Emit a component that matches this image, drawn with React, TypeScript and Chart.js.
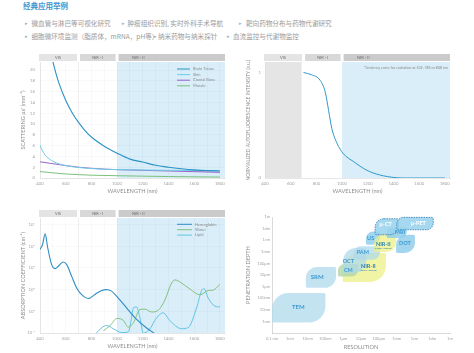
import React, { useEffect, useRef } from 'react';
import { Chart, registerables } from 'chart.js';

Chart.register(...registerables);

const FAMILY = 'Lato, "Open Sans", "DejaVu Sans", sans-serif';
const CJK = '"Noto Sans CJK SC", "Noto Sans", sans-serif';

// ---------- header text ----------
const headingText = '经典应用举例';
const bulletRow1 = ['微血管与淋巴等可视化研究', '肿瘤组织识别, 实时外科手术导航', '靶向药物分布与药物代谢研究'];
const bulletRow2 = ['细胞微环境监测（脂质体，mRNA，pH等）', '纳米药物与纳米探针', '血流监控与代谢物监控'];

// ---------- spectral bands ----------
const bandNames = ['VIS', 'NIR - I', 'NIR - II'];
const bandStart = [400, 700, 1000];
const bandEnd = [700, 1000, 1840];
const wavelengthTicks = [400, 500, 600, 700, 800, 900, 1000, 1100, 1200, 1300, 1400, 1500, 1600, 1700, 1800];
const wavelengthLabels = [400, 600, 800, 1000, 1200, 1400, 1600, 1800];

// ---------- scattering (mm^-1) ----------
const scatterTicks = [0, 1, 2, 3, 4, 5, 6, 7, 8, 9, 10, 11, 12, 13, 14, 15, 16, 17, 18, 19, 20, 21];
const scatterLabels = [0, 2, 4, 6, 8, 10, 12, 14, 16, 18, 20];
const brainWl = [500, 525, 550, 600, 650, 700, 750, 800, 900, 1000, 1100, 1200, 1300, 1400, 1500, 1600, 1700, 1800];
const brainMus = [21.6, 19.3, 17.4, 14.4, 12.1, 10.3, 8.8, 7.6, 5.9, 4.6, 3.5, 2.95, 2.35, 2.0, 1.72, 1.5, 1.36, 1.3];
const skinWl = [400, 420, 450, 500, 550, 600, 700, 800, 900, 1000, 1200, 1400, 1600, 1800];
const skinMus = [6.1, 5.0, 4.0, 3.1, 2.6, 2.3, 1.95, 1.75, 1.62, 1.55, 1.48, 1.43, 1.4, 1.37];
const boneWl = [400, 500, 600, 700, 800, 900, 1000, 1200, 1400, 1600, 1800];
const boneMus = [3.0, 2.65, 2.3, 2.0, 1.8, 1.65, 1.55, 1.42, 1.3, 1.18, 1.05];
const muscleWl = [400, 500, 600, 700, 800, 1000, 1200, 1400, 1600, 1800];
const muscleMus = [1.2, 0.95, 0.75, 0.62, 0.52, 0.42, 0.34, 0.27, 0.22, 0.17];

// ---------- autofluorescence ----------
const afWl = [700, 760, 830, 870, 895, 920, 960, 1010, 1090, 1190, 1290, 1420, 1500, 1600, 1700, 1800];
const afVal = [1.0, 0.98, 0.925, 0.81, 0.64, 0.47, 0.33, 0.23, 0.155, 0.075, 0.03, 0.003, 0, 0, 0, 0];
const afTicks = [0, 1];

// ---------- absorption (cm^-1) ----------
const absTicks = [0.1, 1, 10, 100, 1000, 10000];
const absLabels = ['10⁻¹', '10⁰', '10¹', '10²', '10³', '10⁴'];
const hbWl = [400, 420, 440, 460, 490, 517, 543, 580, 607, 646, 685, 737, 776, 828, 880, 918, 957, 996, 1074, 1152, 1230, 1300];
const hbAbs = [708, 1200, 3700, 850, 145, 93, 120, 186, 145, 42, 12, 5.0, 3.9, 6.0, 9.1, 10, 8.5, 5.0, 1.45, 0.42, 0.17, 0.089];
const waterWl = [893, 944, 1000, 1049, 1087, 1127, 1178, 1217, 1269, 1320, 1372, 1424, 1450, 1502, 1567, 1645, 1710, 1748, 1800];
const waterAbs = [0.126, 0.214, 0.47, 0.38, 0.186, 0.295, 1.2, 1.26, 0.93, 1.12, 3.3, 20, 28, 20, 10.7, 5.75, 9.1, 9.5, 17.4];
const lipidWl = [838, 880, 918, 970, 1036, 1087, 1110, 1127, 1152, 1178, 1204, 1250, 1307, 1359, 1411, 1502, 1554, 1619, 1658, 1676, 1710, 1761, 1800];
const lipidAbs = [0.1, 0.174, 0.224, 0.158, 0.105, 0.112, 0.4, 1.45, 1.58, 0.49, 0.1, 0.141, 0.5, 0.85, 0.37, 0.158, 0.178, 1.45, 9.1, 11.2, 4.0, 1.74, 1.58];

// ---------- imaging modalities (log10 metres) ----------
const decadeTicks = [1e-10, 1e-9, 1e-8, 1e-7, 1e-6, 1e-5, 1e-4, 1e-3, 1e-2, 1e-1, 1];
const resolutionLabels = ['0.1 nm', '1nm', '10nm', '100nm', '1μm', '10μm', '100μm', '1mm', '1cm', '1dm', '1m'];
const depthLabels = ['', '1nm', '10nm', '100nm', '1μm', '10μm', '100μm', '1mm', '1cm', '1dm', '1m'];
const modNames = ['TEM', 'SRM', 'NIR-II', 'CM', 'OCT', 'PAM', 'US', 'NIR-II', 'DOT', 'MRI', 'μ-CT', 'μ-PET'];
const modSub = ['', '', '(Small Animals)', '', '', '', '', '(Large Animals)', '', '', '', ''];
const modResMin = [-10, -8.1, -6.03, -6.3, -6.0, -5.43, -4.72, -4.27, -3.03, -3.56, -4.21, -2.99];
const modResMax = [-7.0, -6.4, -3.6, -5.15, -4.7, -3.93, -3.93, -3.03, -1.97, -2.43, -2.9, -0.94];
const modDepMin = [-9.1, -6.1, -5.6, -5.12, -4.83, -3.68, -2.39, -3.02, -3.1, -1.81, -1.53, -1.1];
const modDepMax = [-6.55, -4.3, -3.1, -4.05, -2.67, -2.53, -1.24, -1.47, -1.53, -0.9, -0.15, -0.03];
const modLabelRes = [-8.52, -7.46, -4.59, -5.71, -5.71, -4.9, -4.46, -3.75, -2.53, -2.81, -3.61, -1.78];
const modLabelDep = [-7.79, -5.21, -4.26, -4.63, -3.83, -3.05, -1.81, -2.33, -2.3, -1.33, -0.58, -0.52];
const modKind = ['pale', 'pale', 'yellow', 'green', 'pale', 'pale', 'blue', 'yellow', 'blue', 'blue', 'dash', 'dash'];

const NIR2_FILL = '#d9eef8';
const TICK_COLOR = '#a3a3a3';
const TITLE_COLOR = '#8e8e8e';

const pts = (xs: number[], ys: number[]) => xs.map((x, i) => ({ x, y: ys[i] }));

const bandPlugin = {
  id: 'bands',
  beforeDraw(chart: any, _a: any, opts: any) {
    if (!opts || !opts.show) return;
    const { ctx, chartArea: a } = chart;
    const x = chart.scales.x;
    ctx.save();
    const s2 = x.getPixelForValue(bandStart[2]);
    ctx.fillStyle = NIR2_FILL;
    ctx.fillRect(s2, a.top, a.right - s2, a.bottom - a.top);
    if (opts.visHatch) {
      const e0 = x.getPixelForValue(bandEnd[0]) - 2;
      ctx.fillStyle = '#e3e3e3';
      ctx.fillRect(a.left, a.top, e0 - a.left, a.bottom - a.top);
      ctx.strokeStyle = 'rgba(255,255,255,0.35)';
      ctx.lineWidth = 0.5;
      for (let yy = a.top + 1; yy < a.bottom; yy += 2) {
        ctx.beginPath();
        ctx.moveTo(a.left, yy);
        ctx.lineTo(e0, yy);
        ctx.stroke();
      }
    }
    const fills = ['#e4e4e4', '#d8d8d8', '#cbcbcb'];
    for (let i = 0; i < 3; i++) {
      const x0 = x.getPixelForValue(bandStart[i]) + (i > 0 ? 1.5 : -1);
      const x1 = x.getPixelForValue(bandEnd[i]) - (i < 2 ? 1.5 : 0);
      ctx.fillStyle = fills[i];
      ctx.fillRect(x0, a.top - 8, x1 - x0, 7);
      ctx.fillStyle = '#6f6f6f';
      ctx.font = `4px ${FAMILY}`;
      ctx.textAlign = 'center';
      ctx.textBaseline = 'middle';
      const cx = i === 2 ? x.getPixelForValue(1165) : (x0 + x1) / 2;
      ctx.fillText(bandNames[i], cx, a.top - 4.5);
    }
    ctx.restore();
  },
};

const legendPlugin = {
  id: 'miniLegend',
  afterDatasetsDraw(chart: any, _a: any, opts: any) {
    if (!opts || !opts.show) return;
    const { ctx, chartArea: a } = chart;
    ctx.save();
    ctx.font = `4px ${FAMILY}`;
    ctx.textBaseline = 'middle';
    ctx.textAlign = 'left';
    chart.data.datasets.forEach((ds: any, i: number) => {
      const y = a.top + opts.top + i * opts.step;
      const x0 = a.right - opts.right;
      ctx.strokeStyle = ds.borderColor;
      ctx.lineWidth = 1;
      ctx.beginPath();
      ctx.moveTo(x0, y);
      ctx.lineTo(x0 + opts.len, y);
      ctx.stroke();
      ctx.fillStyle = '#8a8a8a';
      ctx.fillText(ds.label, x0 + opts.len + 3, y);
    });
    ctx.restore();
  },
};

const notePlugin = {
  id: 'note',
  afterDraw(chart: any, _a: any, opts: any) {
    if (!opts || !opts.text) return;
    const { ctx, chartArea: a } = chart;
    ctx.save();
    ctx.font = `3.6px ${FAMILY}`;
    ctx.fillStyle = '#8a8a8a';
    ctx.textAlign = 'right';
    ctx.textBaseline = 'middle';
    ctx.fillText(opts.text, a.right - 2, a.top + 6);
    ctx.restore();
  },
};

function leaf(ctx: CanvasRenderingContext2D, x1: number, y1: number, x2: number, y2: number) {
  const w = x2 - x1;
  const h = y2 - y1;
  const r = Math.min(w, h) * 0.55;
  const s = Math.min(1.5, w / 4, h / 4);
  ctx.beginPath();
  ctx.moveTo(x1 + r, y1);
  ctx.lineTo(x2 - s, y1);
  ctx.arcTo(x2, y1, x2, y1 + s, s);
  ctx.lineTo(x2, y2 - r);
  ctx.arcTo(x2, y2, x2 - r, y2, r);
  ctx.lineTo(x1 + s, y2);
  ctx.arcTo(x1, y2, x1, y2 - s, s);
  ctx.lineTo(x1, y1 + r);
  ctx.arcTo(x1, y1, x1 + r, y1, r);
  ctx.closePath();
}

const modalityPlugin = {
  id: 'modalities',
  beforeDatasetsDraw(chart: any) {
    const { ctx } = chart;
    const xs = chart.scales.x;
    const ys = chart.scales.y;
    const P = (e: number) => Math.pow(10, e);
    const fills: Record<string, string> = {
      pale: 'rgba(175, 218, 236, 0.75)',
      blue: 'rgba(140, 204, 234, 0.8)',
      yellow: 'rgba(236, 240, 130, 0.72)',
      green: 'rgba(176, 214, 170, 0.8)',
      dash: 'rgba(150, 210, 236, 0.85)',
    };
    ctx.save();
    for (let i = 0; i < modNames.length; i++) {
      const x1 = xs.getPixelForValue(P(modResMin[i]));
      const x2 = xs.getPixelForValue(P(modResMax[i]));
      const y1 = ys.getPixelForValue(P(modDepMax[i]));
      const y2 = ys.getPixelForValue(P(modDepMin[i]));
      leaf(ctx, x1, y1, x2, y2);
      ctx.fillStyle = fills[modKind[i]];
      ctx.fill();
      if (modKind[i] === 'dash') {
        ctx.setLineDash([1.5, 1]);
        ctx.strokeStyle = '#2d78b0';
        ctx.lineWidth = 0.8;
        ctx.stroke();
        ctx.setLineDash([]);
      }
    }
    ctx.textAlign = 'center';
    ctx.textBaseline = 'middle';
    for (let i = 0; i < modNames.length; i++) {
      const lx = xs.getPixelForValue(P(modLabelRes[i]));
      const ly = ys.getPixelForValue(P(modLabelDep[i]));
      const big = modNames[i] === 'TEM' || modNames[i] === 'SRM';
      ctx.font = `bold ${big ? 6 : 5.5}px ${FAMILY}`;
      ctx.fillStyle = modKind[i] === 'dash' ? '#ffffff' : modKind[i] === 'yellow' ? '#2a7fb6' : '#3a9bd3';
      ctx.fillText(modNames[i], lx, ly);
      if (modSub[i]) {
        ctx.font = `2.6px ${FAMILY}`;
        ctx.fillStyle = '#2a7fb6';
        ctx.fillText(modSub[i], lx, ly + 4.2);
      }
    }
    ctx.restore();
  },
};

function wavelengthAxis(max: number) {
  return {
    type: 'linear',
    min: 400,
    max,
    afterBuildTicks: (s: any) => {
      s.ticks = wavelengthTicks.map((v) => ({ value: v }));
    },
    afterFit: (s: any) => {
      s.height = 20;
    },
    ticks: {
      autoSkip: false,
      maxRotation: 0,
      padding: 3,
      color: TICK_COLOR,
      font: { size: 4.3, family: FAMILY },
      callback: (v: number) => (wavelengthLabels.includes(v) ? String(v) : ''),
    },
    grid: {
      drawTicks: false,
      lineWidth: 0.5,
      color: (c: any) => (c.tick && c.tick.value === 700 ? '#dedede' : 'rgba(0,0,0,0.05)'),
    },
    border: { color: '#d6d6d6', width: 0.6 },
    title: {
      display: true,
      text: 'WAVELENGTH (nm)',
      color: TITLE_COLOR,
      font: { size: 5.6, family: FAMILY },
      padding: { top: 0, bottom: 3.6 },
    },
  };
}

function ChartBox(props: { left: number; top: number; width: number; height: number; make: () => any }) {
  const ref = useRef<HTMLCanvasElement | null>(null);
  useEffect(() => {
    if (!ref.current) return;
    const chart = new Chart(ref.current, props.make());
    return () => chart.destroy();
  }, []);
  return (
    <canvas
      ref={ref}
      width={props.width}
      height={props.height}
      style={{ position: 'absolute', left: props.left, top: props.top, width: props.width, height: props.height }}
    />
  );
}

const baseOpts = {
  responsive: false,
  animation: false,
  devicePixelRatio: 1,
  events: [],
};

function makeScattering() {
  const ds = (label: string, xs: number[], ys: number[], color: string, w: number) => ({
    label,
    data: pts(xs, ys),
    borderColor: color,
    backgroundColor: color,
    borderWidth: w,
    pointRadius: 0,
    cubicInterpolationMode: 'monotone',
  });
  return {
    type: 'line',
    data: {
      datasets: [
        ds('Brain Tissue', brainWl, brainMus, '#2b92c6', 1.1),
        ds('Skin', skinWl, skinMus, '#6ccde8', 1),
        ds('Cranial Bone', boneWl, boneMus, '#9a62c8', 1),
        ds('Muscle', muscleWl, muscleMus, '#7cc07c', 1),
      ],
    },
    options: {
      ...baseOpts,
      layout: { padding: { left: 0, right: 13, top: 18, bottom: 0 } },
      plugins: {
        legend: { display: false },
        tooltip: { enabled: false },
        bands: { show: true },
        miniLegend: { show: true, top: 7, step: 5.6, right: 48, len: 13 },
      },
      scales: {
        x: wavelengthAxis(1840),
        y: {
          min: 0,
          max: 21.5,
          afterBuildTicks: (s: any) => {
            s.ticks = scatterTicks.map((v) => ({ value: v }));
          },
          afterFit: (s: any) => {
            s.width = 40;
          },
          ticks: {
            padding: 5,
            color: TICK_COLOR,
            font: { size: 4.3, family: FAMILY },
            callback: (v: number) => (scatterLabels.includes(v) ? String(v) : ''),
          },
          grid: { drawTicks: false, lineWidth: 0.5, color: 'rgba(0,0,0,0.05)' },
          border: { color: '#d6d6d6', width: 0.6 },
          title: {
            display: true,
            text: "SCATTERING μs' (mm⁻¹)",
            color: TITLE_COLOR,
            font: { size: 5.6, family: FAMILY },
            padding: { top: 19.7, bottom: 0 },
          },
        },
      },
    },
    plugins: [bandPlugin, legendPlugin],
  };
}

function makeAutofluorescence() {
  return {
    type: 'line',
    data: {
      datasets: [
        {
          label: 'Autofluorescence',
          data: pts(afWl, afVal),
          borderColor: '#3097c8',
          borderWidth: 1,
          pointRadius: 0,
          cubicInterpolationMode: 'monotone',
        },
      ],
    },
    options: {
      ...baseOpts,
      layout: { padding: { left: 0, right: 24, top: 18, bottom: 0 } },
      plugins: {
        legend: { display: false },
        tooltip: { enabled: false },
        bands: { show: true, visHatch: true },
        note: { text: '*Tendency curve for excitation at 532, 785 or 808 nm' },
      },
      scales: {
        x: { ...wavelengthAxis(1840), grid: { display: false, drawTicks: false } },
        y: {
          min: 0,
          max: 1.1,
          afterBuildTicks: (s: any) => {
            s.ticks = afTicks.map((v) => ({ value: v }));
          },
          afterFit: (s: any) => {
            s.width = 25;
          },
          ticks: {
            padding: 4,
            color: TICK_COLOR,
            font: { size: 4.3, family: FAMILY },
            callback: (v: number) => String(v),
          },
          grid: { display: false, drawTicks: false },
          border: { color: '#d6d6d6', width: 0.6 },
          title: {
            display: true,
            text: 'NORMALIZED AUTOFLUORESCENCE INTENSITY (a.u.)',
            color: TITLE_COLOR,
            font: { size: 4.9, family: FAMILY },
            padding: { top: 5, bottom: 0 },
          },
        },
      },
    },
    plugins: [bandPlugin, notePlugin],
  };
}

function makeAbsorption() {
  const ds = (label: string, xs: number[], ys: number[], color: string, w: number) => ({
    label,
    data: pts(xs, ys),
    borderColor: color,
    backgroundColor: color,
    borderWidth: w,
    pointRadius: 0,
    cubicInterpolationMode: 'monotone',
  });
  return {
    type: 'line',
    data: {
      datasets: [
        ds('Hemoglobin', hbWl, hbAbs, '#2e8dc4', 1.1),
        ds('Water', waterWl, waterAbs, '#86c07c', 1),
        ds('Lipid', lipidWl, lipidAbs, '#62c4e6', 1),
      ],
    },
    options: {
      ...baseOpts,
      layout: { padding: { left: 0, right: 13, top: 19, bottom: 0 } },
      plugins: {
        legend: { display: false },
        tooltip: { enabled: false },
        bands: { show: true },
        miniLegend: { show: true, top: 6.3, step: 5.4, right: 48, len: 15 },
      },
      scales: {
        x: wavelengthAxis(1840),
        y: {
          type: 'logarithmic',
          min: 0.1,
          max: 20000,
          afterBuildTicks: (s: any) => {
            s.ticks = absTicks.map((v) => ({ value: v }));
          },
          afterFit: (s: any) => {
            s.width = 40;
          },
          ticks: {
            padding: 5,
            color: TICK_COLOR,
            font: { size: 4.3, family: FAMILY },
            callback: (_v: number, i: number) => absLabels[i],
          },
          grid: { drawTicks: false, lineWidth: 0.5, color: 'rgba(0,0,0,0.05)' },
          border: { color: '#d6d6d6', width: 0.6 },
          title: {
            display: true,
            text: 'ABSORPTION COEFFICIENT (cm⁻¹)',
            color: TITLE_COLOR,
            font: { size: 5.6, family: FAMILY },
            padding: { top: 19.7, bottom: 0 },
          },
        },
      },
    },
    plugins: [bandPlugin, legendPlugin],
  };
}

function makeModalities() {
  return {
    type: 'scatter',
    data: { datasets: [{ label: 'modalities', data: [] as any[], pointRadius: 0 }] },
    options: {
      ...baseOpts,
      layout: { padding: { left: 0, right: 24, top: 18, bottom: 0 } },
      plugins: { legend: { display: false }, tooltip: { enabled: false } },
      scales: {
        x: {
          type: 'logarithmic',
          min: 1e-10,
          max: 1,
          afterBuildTicks: (s: any) => {
            s.ticks = decadeTicks.map((v) => ({ value: v }));
          },
          afterFit: (s: any) => {
            s.height = 20;
          },
          ticks: {
            autoSkip: false,
            maxRotation: 0,
            padding: 3,
            color: TICK_COLOR,
            font: { size: 4, family: FAMILY },
            callback: (_v: number, i: number) => resolutionLabels[i],
          },
          grid: { display: false, drawTicks: false },
          border: { color: '#c9c9c9', width: 0.7 },
          title: {
            display: true,
            text: 'RESOLUTION',
            color: TITLE_COLOR,
            font: { size: 5.6, family: FAMILY },
            padding: { top: 0, bottom: 2.8 },
          },
        },
        y: {
          type: 'logarithmic',
          min: 1e-10,
          max: 1,
          afterBuildTicks: (s: any) => {
            s.ticks = decadeTicks.map((v) => ({ value: v }));
          },
          afterFit: (s: any) => {
            s.width = 32;
          },
          ticks: {
            autoSkip: false,
            padding: 2,
            color: TICK_COLOR,
            font: { size: 4, family: FAMILY },
            callback: (_v: number, i: number) => depthLabels[i],
          },
          grid: { display: false, drawTicks: false },
          border: { color: '#c9c9c9', width: 0.7 },
          title: {
            display: true,
            text: 'PENETRATION DEPTH',
            color: TITLE_COLOR,
            font: { size: 5.6, family: FAMILY },
            padding: { top: 5, bottom: 0 },
          },
        },
      },
    },
    plugins: [modalityPlugin],
  };
}

function Bullets(props: { top: number; items: string[]; bullets: number[]; texts: number[] }) {
  return (
    <>
      {props.items.map((t, i) => (
        <React.Fragment key={i}>
          <span style={{ position: 'absolute', left: props.bullets[i], top: props.top, fontSize: 5, color: '#8fb3cc', lineHeight: '12px' }}>▸</span>
          <span style={{ position: 'absolute', left: props.texts[i], top: props.top, fontSize: 6.6, color: '#9a9a9a', lineHeight: '12px', whiteSpace: 'nowrap', fontFamily: CJK }}>{t}</span>
        </React.Fragment>
      ))}
    </>
  );
}

export default function App() {
  return (
    <div style={{ position: 'fixed', left: 0, top: 0, width: 474, height: 353, background: '#fff', overflow: 'hidden', fontFamily: CJK }}>
      <div style={{ position: 'absolute', left: 23, top: 0, fontSize: 7.5, fontWeight: 700, color: '#3b97d2', lineHeight: '12px', fontFamily: CJK }}>
        {headingText}
      </div>
      <Bullets top={17} items={bulletRow1} bullets={[25, 121.5, 239]} texts={[31.5, 127.5, 246]} />
      <Bullets top={30} items={bulletRow2} bullets={[25, 154, 226.5]} texts={[31.5, 158, 233]} />
      <ChartBox left={0} top={44} width={238} height={154} make={makeScattering} />
      <ChartBox left={240} top={44} width={234} height={154} make={makeAutofluorescence} />
      <ChartBox left={0} top={199} width={238} height={154} make={makeAbsorption} />
      <ChartBox left={240} top={199} width={234} height={154} make={makeModalities} />
    </div>
  );
}
